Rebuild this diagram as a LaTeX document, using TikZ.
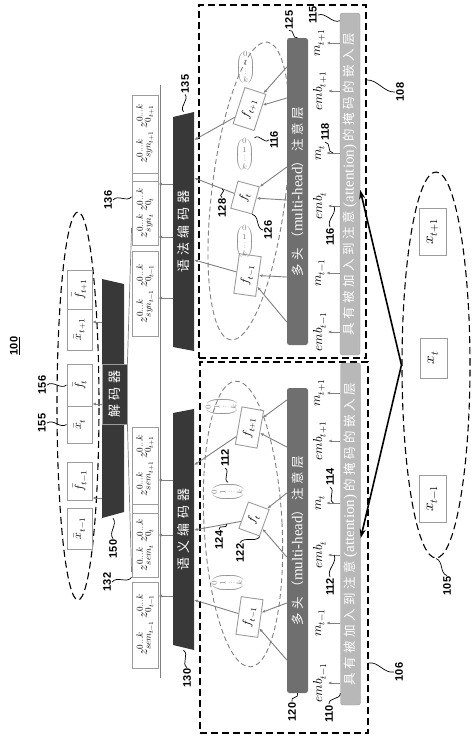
\documentclass[tikz,border=0pt]{standalone}
\usepackage{amsmath}
\usepackage{fontspec}
\usepackage{unicode-math}
\setmainfont{Liberation Serif}
\setmathfont{Latin Modern Math}
\newfontfamily\cjk[LetterSpace=28]{Noto Sans CJK SC}
\newfontfamily\cjkwide[LetterSpace=32]{Noto Sans CJK SC}
\newfontfamily\numfont{Liberation Sans}
\usetikzlibrary{arrows.meta,calc,shapes.geometric}

\definecolor{encgray}{HTML}{383838}
\definecolor{attgray}{HTML}{6F6F6F}
\definecolor{embgray}{HTML}{B8B8B8}
\definecolor{wiregray}{HTML}{808080}
\definecolor{framegray}{HTML}{9C9C9C}

\newcommand\zhbar[1]{{\cjk\fontsize{12.5}{12.5}\selectfont #1}}
\newcommand\embtext{\zhbar{具有被加入到注意}\ (attention)\ \zhbar{的掩码的嵌入层}}
\newcommand\atttext{\zhbar{多头（}multi-head\zhbar{）注意层}}
\newcommand\idxvec{$\begin{pmatrix}0\\1\\\vdots\\k\end{pmatrix}$}

\tikzset{
  frame/.style={draw, line width=1.1pt, dash pattern=on 7pt off 4pt, inner sep=0pt},
  grp/.style={draw=wiregray, line width=0.9pt, dash pattern=on 5pt off 3pt},
  vbox/.style={draw=framegray, line width=0.9pt, fill=white, rotate=90, inner sep=0pt},
  zbox/.style={vbox, minimum height=26pt, font=\fontsize{13}{13}\selectfont},
  obox/.style={vbox, minimum height=25pt, font=\fontsize{12}{12}\selectfont},
  xbox/.style={vbox, minimum height=27pt, font=\fontsize{15}{15}\selectfont},
  fcell/.style={vbox, minimum height=22pt, font=\fontsize{12}{12}\selectfont},
  vec/.style={text=wiregray, inner sep=0pt, font=\fontsize{8}{8.5}\selectfont},
  bar/.style={rotate=90, rounded corners=2.5pt, inner sep=0pt, text=white},
  attbar/.style={bar, fill=attgray, minimum height=21pt, font=\fontsize{15}{15}\selectfont},
  embbar/.style={bar, fill=embgray, draw=framegray, minimum height=20pt, font=\fontsize{15}{15}\selectfont},
  enclbl/.style={rotate=90, inner sep=0pt, minimum height=21pt, text=white, font=\cjkwide\fontsize{13}{13}\selectfont},
  emblbl/.style={rotate=90, inner sep=1.5pt, font=\fontsize{13}{13}\selectfont},
  num/.style={rotate=90, inner sep=1pt, font=\numfont\bfseries\fontsize{11}{11}\selectfont},
  wire/.style={draw=wiregray, line width=0.9pt},
  arr/.style={wire, -{Latex[length=3.5pt,width=3pt]}},
  lead/.style={line width=0.7pt},
  squig/.style={to path={.. controls ($(\tikztostart)!0.3!(\tikztotarget)!5pt!90:(\tikztotarget)$) and ($(\tikztostart)!0.7!(\tikztotarget)!5pt!-90:(\tikztotarget)$) .. (\tikztotarget)}}
}

\begin{document}
\begin{tikzpicture}[x=1pt, y=-1pt]
  \useasboundingbox (0,0) rectangle (474,739);

  % Frames of the two branches
  \node[frame, minimum width=167pt, minimum height=353pt] (synframe) at (282.5,181.5) {};
  \node[frame, minimum width=168pt, minimum height=371pt] (semframe) at (284,547.5) {};

  % Groups of f vectors
  \draw[grp, rotate around={-7:(249,191)}] (249,191) ellipse [x radius=37, y radius=150];
  \draw[grp, rotate around={3:(243,524)}] (243,524) ellipse [x radius=39, y radius=143];

  % Embedding layers
  \node[embbar, minimum width=342pt] (embsyn) at (350,184) {\embtext};
  \node[embbar, minimum width=342pt] (embsem) at (350.5,534) {\embtext};

  % Attention layers
  \node[attbar, minimum width=307pt] (attsyn) at (297.5,191.5) {\atttext};
  \node[attbar, minimum width=305pt] (attsem) at (297.5,540.5) {\atttext};

  % Embedding outputs
  \node[emblbl] (msynp) at (320,43) {$m_{t+1}$};
  \node[emblbl] (esynp) at (320,91) {$emb_{t+1}$};
  \node[emblbl] (msynt) at (320,153) {$m_t$};
  \node[emblbl] (esynt) at (320,206) {$emb_t$};
  \node[emblbl] (msynm) at (320,273) {$m_{t-1}$};
  \node[emblbl] (esynm) at (320,332) {$emb_{t-1}$};
  \draw[arr] (embsyn.north |- msynp) -- (msynp);
  \draw[arr] (embsyn.north |- esynp) -- (esynp);
  \draw[arr] (embsyn.north |- msynt) -- coordinate (amsynt) (msynt);
  \draw[arr] (embsyn.north |- esynt) -- coordinate (amsyne) (esynt);
  \draw[arr] (embsyn.north |- msynm) -- (msynm);
  \draw[arr] (embsyn.north |- esynm) -- (esynm);

  \node[emblbl] (msemp) at (320,393) {$m_{t+1}$};
  \node[emblbl] (esemp) at (320,441) {$emb_{t+1}$};
  \node[emblbl] (msemt) at (320,503) {$m_t$};
  \node[emblbl] (esemt) at (320,555) {$emb_t$};
  \node[emblbl] (msemm) at (320,623) {$m_{t-1}$};
  \node[emblbl] (esemm) at (320,683) {$emb_{t-1}$};
  \draw[arr] (embsem.north |- msemp) -- (msemp);
  \draw[arr] (embsem.north |- esemp) -- (esemp);
  \draw[arr] (embsem.north |- msemt) -- coordinate (amsemt) (msemt);
  \draw[arr] (embsem.north |- esemt) -- coordinate (amseme) (esemt);
  \draw[arr] (embsem.north |- msemm) -- (msemm);
  \draw[arr] (embsem.north |- esemm) -- (esemm);

  % Encoders
  \fill[encgray] (173,117) -- (194,112) -- (194,351) -- (173,347) -- cycle;
  \node[enclbl, minimum width=239pt] (synenc) at (183.5,231.5) {语法编码器};
  \fill[encgray] (173,413) -- (194,409) -- (194,650) -- (173,645) -- cycle;
  \node[enclbl, minimum width=241pt] (semenc) at (183.5,529.5) {语义编码器};

  % f vectors, syntax side
  \node[fcell, rotate=-18, minimum width=38pt] (fsynp) at (249.5,109) {$f_{t+1}$};
  \node[fcell, rotate=-15, minimum width=28pt] (fsynt) at (245,197.5) {$f_t$};
  \node[fcell, rotate=-8, minimum width=40pt] (fsynm) at (247.5,275) {$f_{t-1}$};
  \node[vec] (vsynp) at (246,68) {\idxvec};
  \node[vec] (vsynt) at (245,155) {\idxvec};
  \node[vec] (vsynm) at (245,242) {\idxvec};

  % f vectors, semantic side
  \node[fcell, rotate=-10, minimum width=38pt] (fsemp) at (249.5,427.5) {$f_{t+1}$};
  \node[fcell, rotate=-20, minimum width=28pt] (fsemt) at (254,519) {$f_t$};
  \node[fcell, rotate=-8, minimum width=38pt] (fsemm) at (249.5,617) {$f_{t-1}$};
  \node[vec, rotate=90] (vsemp) at (222,407) {\idxvec};
  \node[vec, rotate=90] (vsemt) at (228,492) {\idxvec};
  \node[vec, rotate=90] (vsemm) at (228,583) {\idxvec};

  % Attention to f
  \draw[arr] (attsyn.north |- 0,67) -- (fsynp);
  \draw[arr] (attsyn.north |- 0,98) -- (fsynp);
  \draw[arr] (attsyn.north |- 0,167) -- (fsynt);
  \draw[arr] (attsyn.north |- 0,200) -- (fsynt);
  \draw[arr] (attsyn.north |- 0,277) -- (fsynm);
  \draw[arr] (attsyn.north |- 0,322) -- (fsynm);
  \draw[arr] (attsem.north |- 0,400) -- (fsemp);
  \draw[arr] (attsem.north |- 0,447) -- (fsemp);
  \draw[arr] (attsem.north |- 0,493) -- (fsemt);
  \draw[arr] (attsem.north |- 0,557) -- (fsemt);
  \draw[arr] (attsem.north |- 0,603) -- (fsemm);
  \draw[arr] (attsem.north |- 0,660) -- (fsemm);

  % f to encoders
  \draw[arr] (fsynp) -- (synenc.south |- 0,140);
  \draw[arr] (fsynt) -- coordinate[pos=0.3] (l128) (synenc.south |- 0,178);
  \draw[arr] (fsynm) -- (synenc.south |- 0,260);
  \draw[arr] (fsemp) -- (semenc.south |- 0,465);
  \draw[arr] (fsemt) -- coordinate[pos=0.3] (l124) (semenc.south |- 0,530);
  \draw[arr] (fsemm) -- (semenc.south |- 0,600);

  % Latent codes
  \draw[wire, line width=0.7pt] (160,85) -- (160,678);
  \node[zbox, minimum width=78pt] (zsynp) at (145,134) {$z^{0\ldots k}_{syn_{t+1}}\,z^{0\ldots k}_{0_{t+1}}$};
  \node[zbox, minimum width=8pt] (zsynd) at (145,177) {};
  \node[zbox, minimum width=64pt] (zsynt) at (145,213) {$z^{0\ldots k}_{syn_t}\,z^{0\ldots k}_{0_t}$};
  \node[zbox, minimum width=85pt] (zsynm) at (145,293.5) {$z^{0\ldots k}_{syn_{t-1}}\,z^{0\ldots k}_{0_{t-1}}$};
  \node[zbox, minimum width=77pt] (zsemp) at (145,465.5) {$z^{0\ldots k}_{sem_{t+1}}\,z^{0\ldots k}_{0_{t+1}}$};
  \node[zbox, minimum width=9pt] (zsemd) at (145,508.5) {};
  \node[zbox, minimum width=64pt] (zsemt) at (145,545) {$z^{0\ldots k}_{sem_t}\,z^{0\ldots k}_{0_t}$};
  \node[zbox, minimum width=86pt] (zsemm) at (145,625) {$z^{0\ldots k}_{sem_{t-1}}\,z^{0\ldots k}_{0_{t-1}}$};
  \draw[arr] (synenc.north |- 0,184) -- (zsynt.south |- 0,184);
  \draw[arr] (synenc.north |- 0,237) -- (zsynt.south |- 0,237);
  \draw[arr] (synenc.north |- 0,298) -- (zsynm.south |- 0,298);
  \draw[arr] (semenc.north |- 0,480) -- (zsemp.south |- 0,480);
  \draw[arr] (semenc.north |- 0,535) -- (zsemt.south |- 0,535);
  \draw[arr] (semenc.north |- 0,596) -- (zsemm.south |- 0,596);

  % Decoder
  \fill[encgray] (102,279) -- (124,284) -- (124,512) -- (102,518) -- cycle;
  \node[rotate=90, minimum width=239pt, minimum height=22pt, inner sep=0pt] (dec) at (113,398.5) {};
  \node[enclbl, draw=framegray, fill=encgray, line width=0.8pt, minimum width=60pt, minimum height=25pt] (declbl) at (114.5,394) {解码器};
  \draw[wire, line width=0.7pt] (zsynt.north |- 0,228) -- (declbl.south east);
  \draw[wire, line width=0.7pt] (declbl.south west) -- (zsemt.north |- 0,572);

  % Decoder outputs
  \node[frame, ellipse, minimum width=42pt, minimum height=388pt] (outgrp) at (78,406) {};
  \node[obox, minimum width=39pt] (fbarp) at (79.5,289.5) {$\bar{f}_{t+1}$};
  \node[obox, minimum width=41pt] (xbarp) at (79.5,329.5) {$\bar{x}_{t+1}$};
  \node[obox, minimum width=42pt] (fbart) at (79.5,385) {$\bar{f}_t$};
  \node[obox, minimum width=37pt] (xbart) at (79.5,424.5) {$\bar{x}_t$};
  \node[obox, minimum width=38pt] (fbarm) at (79.5,481) {$\bar{f}_{t-1}$};
  \node[obox, minimum width=41pt] (xbarm) at (79.5,528.5) {$\bar{x}_{t-1}$};
  \draw[arr] (dec.north |- 0,322) -- (xbarp.south |- 0,322);
  \draw[arr] (dec.north |- 0,404) -- (fbart.south |- 0,404);
  \draw[arr] (dec.north |- 0,498) -- (fbarm.south |- 0,498);

  % Input frames
  \node[frame, ellipse, minimum width=68pt, minimum height=386pt] (xgrp) at (436,365) {};
  \node[xbox, minimum width=47pt] (xinp) at (432.5,231.5) {$x_{t+1}$};
  \node[xbox, minimum width=40pt] (xint) at (433.5,358) {$x_t$};
  \node[xbox, minimum width=47pt] (xinm) at (432.5,498.5) {$x_{t-1}$};
  \draw[line width=1.6pt, {Stealth[length=9pt,width=6pt]}-{Stealth[length=9pt,width=6pt]}]
    (embsyn.south |- 0,190) -- (xgrp.west) -- (embsem.south |- 0,538);

  % Reference numerals
  \node[num] (n100) at (15,346) {\underline{100}};
  \node[num] (n155) at (42,423) {155};
  \draw[lead] (n155.south) to[squig] (xbart.north);
  \node[num] (n156) at (42,385) {156};
  \draw[lead] (n156.south) to[squig] (fbart.north);
  \node[num] (n150) at (113,549) {150};
  \draw[lead] (n150.east) to[squig] (dec.west);
  \node[num] (n132) at (107,582) {132};
  \draw[lead] (n132.south) to[squig] (zsemt.north west);
  \node[num] (n136) at (108,200) {136};
  \draw[lead] (n136.south) to[squig] ($(zsynt.north)!0.5!(zsynt.north east)$);
  \node[num] (n135) at (185,84) {135};
  \draw[lead] (n135.west) to[squig] (synenc.east);
  \node[num] (n130) at (187,678) {130};
  \draw[lead] (n130.east) to[squig] (semenc.west);
  \node[num] (n125) at (289,20) {125};
  \draw[lead] (n125.west) to[squig] (attsyn.east);
  \node[num] (n115) at (313,15) {115};
  \draw[lead] (n115.south) to[squig] ($(embsyn.north east)+(0,8)$);
  \node[num] (n108) at (400,92) {108};
  \draw[lead] (synframe.east |- 0,80) to[squig] (n108.north);
  \node[num] (n106) at (399,672) {106};
  \draw[lead] (semframe.east |- 0,663) to[squig] (n106.north);
  \node[num] (n105) at (447,586) {105};
  \draw[lead] (n105.east) to[squig] (xgrp.south);
  \node[num] (n118) at (325,132) {118};
  \draw[lead] (n118.west) to[squig] (amsynt);
  \node[num] (n116b) at (330,237) {116};
  \draw[lead] (n116b.east) to[squig] (amsyne);
  \node[num] (n116a) at (274,140) {116};
  \draw[lead] (n116a.north) to[squig] (vsynt.north east);
  \node[num] (n128) at (222,208) {128};
  \draw[lead] (n128.east) to[squig] (l128);
  \node[num] (n126) at (268,230) {126};
  \draw[lead] (n126.north) to[squig] (fsynt.south west);
  \node[num] (n124) at (219,540) {124};
  \draw[lead] (n124.east) to[squig] (l124);
  \node[num] (n122) at (240,553) {122};
  \draw[lead] (n122.east) to[squig] (fsemt.south west);
  \node[num] (n112a) at (225,458) {112};
  \draw[lead] (n112a.west) to[squig] (vsemt.east);
  \node[num] (n114) at (330,477) {114};
  \draw[lead] (n114.west) to[squig] (amsemt);
  \node[num] (n112b) at (330,587) {112};
  \draw[lead] (n112b.east) to[squig] (amseme);
  \node[num] (n110) at (329,714) {110};
  \draw[lead] (n110.east) to[squig] ($(embsem.north west)+(0,-12)$);
  \node[num] (n120) at (292,712) {120};
  \draw[lead] (n120.east) to[squig] (attsem.west);
\end{tikzpicture}
\end{document}
